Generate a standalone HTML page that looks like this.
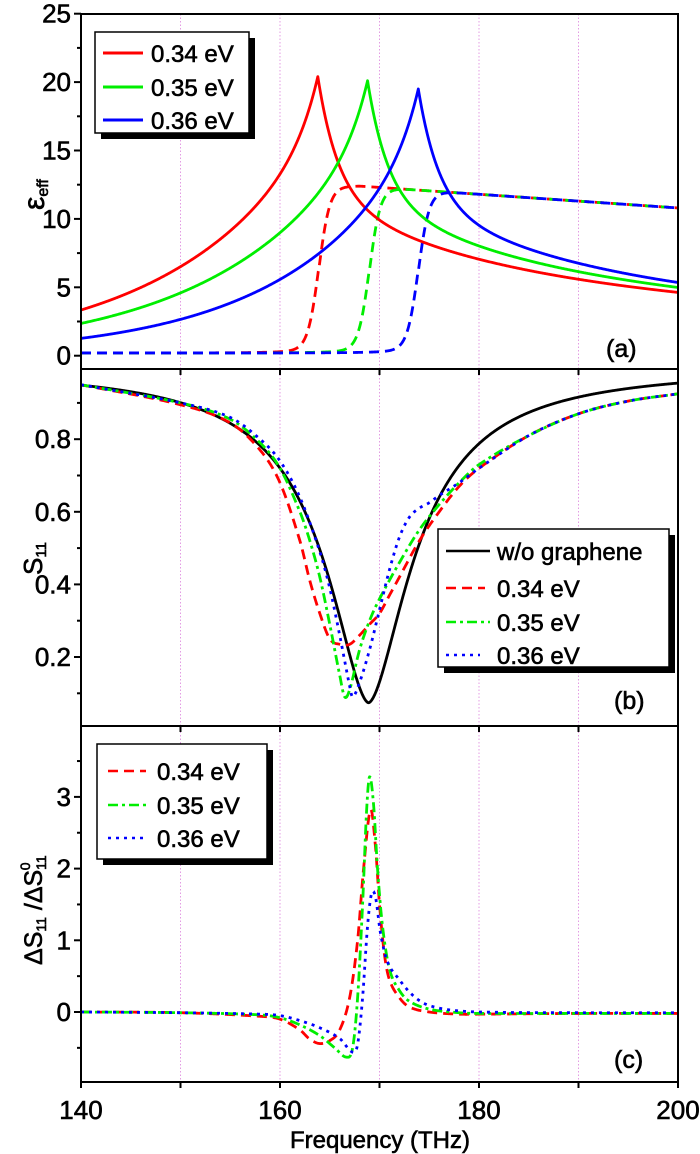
<!DOCTYPE html>
<html><head><meta charset="utf-8"><style>
html,body{margin:0;padding:0;background:#fff;}
svg{display:block;font-family:"Liberation Sans",Arial,sans-serif;}
.t{stroke:#000;stroke-width:0.6;}
</style></head><body>
<svg id="s" width="700" height="1154" viewBox="0 0 700 1154" xmlns="http://www.w3.org/2000/svg">
<defs>
<clipPath id="ca"><rect x="81" y="14" width="597" height="355"/></clipPath>
<clipPath id="cb"><rect x="81" y="369" width="597" height="357"/></clipPath>
<clipPath id="cc"><rect x="81" y="726" width="597" height="356"/></clipPath>
</defs>
<g id="grid" stroke="#e39be3" stroke-width="1" stroke-dasharray="1.5,2"></g>
<g id="curves"></g>
<g id="axes" stroke="#000" stroke-width="2" fill="none">
<rect x="81" y="14" width="597" height="1068"/>
<line x1="81" y1="369" x2="678" y2="369"/>
<line x1="81" y1="726" x2="678" y2="726"/>
</g>
<g id="ticks" stroke="#000" stroke-width="2"></g>
<g id="labels" font-size="26" fill="#000" class="t"></g>
<!-- legends -->
<rect x="101" y="38" width="154" height="101" fill="#000"/>
<rect x="95" y="32" width="154" height="101" fill="#fff" stroke="#000" stroke-width="1.5"/>
<g stroke-width="3">
<line x1="103" y1="53" x2="143" y2="53" stroke="#ff0000"/>
<line x1="103" y1="87" x2="143" y2="87" stroke="#00ee00"/>
<line x1="103" y1="120" x2="143" y2="120" stroke="#0000ff"/>
</g>
<g font-size="24" class="t"><text x="151" y="62">0.34 eV</text><text x="151" y="96">0.35 eV</text><text x="151" y="129">0.36 eV</text></g>

<rect x="444" y="535" width="231" height="138" fill="#000"/>
<rect x="438" y="529" width="231" height="138" fill="#fff" stroke="#000" stroke-width="1.5"/>
<g stroke-width="2.5">
<line x1="446" y1="551" x2="490" y2="551" stroke="#000"/>
<line x1="446" y1="588" x2="485" y2="588" stroke="#ff0000" stroke-dasharray="10,6"/>
<line x1="446" y1="622" x2="490" y2="622" stroke="#00ee00" stroke-dasharray="10,4,3,4"/>
<line x1="446" y1="655" x2="480" y2="655" stroke="#0000ff" stroke-dasharray="3,5"/>
</g>
<g font-size="24" class="t"><text x="497" y="560">w/o graphene</text><text x="497" y="597">0.34 eV</text><text x="497" y="631">0.35 eV</text><text x="497" y="664">0.36 eV</text></g>

<rect x="103" y="750" width="170" height="115" fill="#000"/>
<rect x="97" y="744" width="170" height="115" fill="#fff" stroke="#000" stroke-width="1.5"/>
<g stroke-width="2.5">
<line x1="108" y1="771" x2="146" y2="771" stroke="#ff0000" stroke-dasharray="10,6"/>
<line x1="108" y1="805" x2="146" y2="805" stroke="#00ee00" stroke-dasharray="10,4,3,4"/>
<line x1="108" y1="838" x2="146" y2="838" stroke="#0000ff" stroke-dasharray="3,5"/>
</g>
<g font-size="24" class="t"><text x="157" y="780">0.34 eV</text><text x="157" y="814">0.35 eV</text><text x="157" y="847">0.36 eV</text></g>

<g font-size="25" class="t">
<text x="606" y="357">(a)</text>
<text x="614" y="709">(b)</text>
<text x="614" y="1068">(c)</text>
</g>
<text x="380" y="1148" font-size="24" text-anchor="middle" class="t">Frequency (THz)</text>
<text transform="translate(44,210) rotate(-90)" font-size="30" class="t">ε<tspan font-size="16" dy="4">eff</tspan></text>
<text transform="translate(42,575) rotate(-90)" font-size="26" class="t">S<tspan font-size="15" dy="4">11</tspan></text>
<text transform="translate(42,965) rotate(-90)" font-size="25" class="t">ΔS<tspan font-size="14" dy="4">11</tspan><tspan dy="-4"> /ΔS</tspan><tspan font-size="14" dy="4">11</tspan><tspan font-size="14" dx="-15" dy="-16">0</tspan></text>
</svg>
<script>
const NS="http://www.w3.org/2000/svg";
const X=f=>81+(f-140)*9.95;
const ya=v=>355.7-13.68*v, yb=v=>729.6-363*v, yc=v=>1012-71.7*v;
function el(tag,attrs,parent){const e=document.createElementNS(NS,tag);for(const k in attrs)e.setAttribute(k,attrs[k]);document.getElementById(parent).appendChild(e);return e;}
[150,160,170,180,190].forEach(f=>el('line',{x1:X(f),y1:14,x2:X(f),y2:1082},'grid'));
function yt(y,len){el('line',{x1:81-len,y1:y,x2:81,y2:y},'ticks');}
for(let v=0;v<=25;v+=2.5)yt(ya(v),v%5==0?7:4);
for(let v=0.1;v<=0.95;v+=0.1){const r=Math.round(v*10);yt(yb(r/10),r%2==0?7:4);}
for(let v=-0.5;v<=3.6;v+=0.5)yt(yc(v),Math.abs(v-Math.round(v))<1e-6?7:4);
[369,726,1082].forEach(y=>{for(let f=140;f<=200;f+=10)el('line',{x1:X(f),y1:y,x2:X(f),y2:y+6},'ticks');});
function lab(x,y,t,a){const e=el('text',{x:x,y:y,'text-anchor':a||'end'},'labels');e.textContent=t;}
for(let v=0;v<=25;v+=5)lab(71,ya(v)+9,v);
[0.2,0.4,0.6,0.8].forEach(v=>lab(71,yb(v)+9,v.toFixed(1)));
[0,1,2,3].forEach(v=>lab(71,yc(v)+9,v));
for(let f=140;f<=200;f+=20)lab(X(f),1119,f,'middle');
function path(fn,ymap,clip,color,dash,w){let d='';for(let f=140;f<=200.001;f+=0.05){const x=X(f),y=ymap(fn(f));d+=(d?'L':'M')+x.toFixed(2)+','+y.toFixed(2);}
 const a={d:d,fill:'none',stroke:color,'stroke-width':w||2.8,'clip-path':'url(#'+clip+')','stroke-linejoin':'round'};if(dash)a['stroke-dasharray']=dash;el('path',a,'curves');}
function cr(pts){return f=>{let i=0;while(i<pts.length-2&&f>pts[i+1][0])i++;
 const p0=pts[Math.max(i-1,0)],p1=pts[i],p2=pts[i+1],p3=pts[Math.min(i+2,pts.length-1)];
 const t=(f-p1[0])/(p2[0]-p1[0]);
 const m1=(p2[1]-p0[1])/(p2[0]-p0[0])*(p2[0]-p1[0]),m2=(p3[1]-p1[1])/(p3[0]-p1[0])*(p2[0]-p1[0]);
 const t2=t*t,t3=t2*t;return (2*t3-3*t2+1)*p1[1]+(t3-2*t2+t)*m1+(-2*t3+3*t2)*p2[1]+(t3-t2)*m2;};}
function eps(P,f0,L){return f=>{const d=f-f0;if(d<0){const D=-d;return P*(0.2*Math.exp(-D/2)+0.8*Math.exp(-D/L));}return P*(0.4*Math.exp(-d/2)+0.6/(1+d/22));};}
function deps(fc){return f=>{const s=1/(1+Math.exp(-(f-fc)/0.55));const plat=12.4-Math.max(0,f-168)*0.05;const base=0.2+0.3*Math.exp((f-fc)/3)*(f<fc?1:0);return base*(1-s)+plat*s;};}
path(deps(163.9),ya,'ca','#ff0000','10,6');
path(deps(169),ya,'ca','#00ee00','10,6');
path(deps(173.9),ya,'ca','#0000ff','10,6');
path(eps(20.4,163.8,15),ya,'ca','#ff0000');
path(eps(20.1,168.8,15),ya,'ca','#00ee00');
path(eps(19.5,173.9,13.5),ya,'ca','#0000ff');
const blk=f=>{const d=Math.abs(f-168.9);return 1-0.926/(1+Math.pow(d/5.44,1.7));};
const rb=cr([[140,.95],[150,.895],[155,.845],[158,.77],[160,.68],[162,.52],[163,.41],[164,.32],[165,.25],[166,.235],[167,.235],[168,.26],[169,.29],[170,.32],[171,.37],[172,.42],[174,.52],[176,.6],[178,.67],[180,.72],[185,.81],[190,.87],[195,.905],[200,.925]]);
const gb=cr([[140,.95],[150,.9],[155,.855],[158,.79],[160,.72],[162,.6],[163,.52],[164,.42],[165,.29],[166,.15],[166.5,.09],[167,.11],[168,.22],[169,.3],[170,.36],[172,.46],[174,.55],[176,.62],[178,.68],[180,.73],[185,.81],[190,.87],[195,.905],[200,.925]]);
const bb=cr([[140,.95],[150,.9],[155,.86],[158,.8],[160,.74],[162,.64],[164,.49],[165,.39],[166,.26],[167,.12],[167.3,.09],[168,.13],[169,.22],[170,.33],[171,.44],[172,.53],[173,.585],[174,.61],[175,.625],[176,.645],[178,.68],[180,.72],[185,.81],[190,.87],[195,.905],[200,.925]]);
path(blk,yb,'cb','#000');
path(rb,yb,'cb','#ff0000','10,6');
path(gb,yb,'cb','#00ee00','10,4,3,4');
path(bb,yb,'cb','#0000ff','3,5');
const rc=cr([[140,0],[150,-0.01],[158,-0.06],[160,-0.1],[162,-0.25],[163,-0.38],[164,-0.44],[165,-0.4],[166,-0.25],[167,0.2],[167.8,1.0],[168.4,2.0],[169.1,2.82],[169.6,2.3],[170,1.5],[170.5,0.8],[171,0.45],[172,0.2],[173,0.07],[175,0],[178,-0.03],[180,-0.03],[190,-0.02],[200,-0.02]]);
const gc=cr([[140,0],[150,-0.01],[158,-0.04],[160,-0.08],[162,-0.18],[164,-0.33],[165.5,-0.5],[166.7,-0.63],[167.3,-0.5],[167.8,0.2],[168.3,1.5],[168.7,2.8],[169,3.28],[169.4,2.9],[169.8,2.0],[170.3,1.2],[171,0.6],[172,0.3],[173,0.15],[175,0.04],[178,-0.01],[180,-0.02],[190,-0.02],[200,-0.02]]);
const bc=cr([[140,0],[150,-0.01],[158,-0.03],[160,-0.05],[162,-0.12],[164,-0.22],[166,-0.37],[167.3,-0.56],[167.8,-0.45],[168.3,0.2],[168.8,1.2],[169.2,1.65],[169.6,1.6],[170.1,1.1],[170.8,0.7],[172,0.45],[173,0.28],[174,0.16],[175,0.09],[177,0.03],[180,0],[190,-0.01],[200,-0.01]]);
path(rc,yc,'cc','#ff0000','10,6');
path(gc,yc,'cc','#00ee00','10,4,3,4');
path(bc,yc,'cc','#0000ff','3,5');
</script>
</body></html>
